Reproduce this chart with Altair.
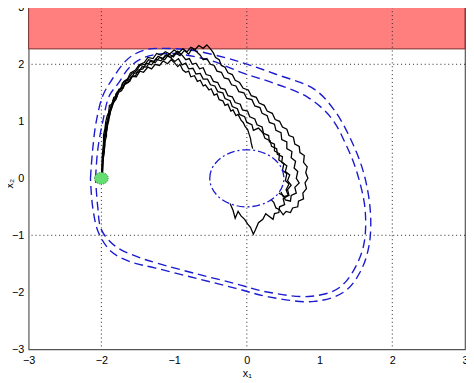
import altair as alt
import pandas as pd

# axis ticks and visible dotted grid lines
x_ticks = [-3, -2, -1, 0, 1, 2, 3]
y_ticks = [-3, -2, -1, 0, 1, 2, 3]
grid_x = [-2, 0, 2]
grid_y = [-1, 2, 3]

# unsafe (red) band
band_x = [-3.0, 3.0]
band_y = [2.27, 3.0]

# start point and target set centre
start_x = [-2.0]
start_y = [0.0]
target_x = [0.0]
target_y = [0.0]

outer_bound = [(-2.15, 0.0), (-2.12, 0.5), (-2.07, 1.0), (-1.98, 1.45), (-1.86, 1.72), (-1.64, 2.09),
               (-1.41, 2.25), (-1.14, 2.28), (-0.73, 2.24), (-0.28, 2.11), (0.03, 1.99), (0.39, 1.83),
               (0.93, 1.56), (1.20, 1.20), (1.43, 0.68), (1.61, 0.08), (1.70, -0.61), (1.68, -1.18),
               (1.56, -1.64), (1.34, -1.99), (0.93, -2.16), (0.30, -2.08), (-0.15, -1.93), (-0.68, -1.76),
               (-1.27, -1.57), (-1.59, -1.47), (-1.86, -1.29), (-2.04, -0.95), (-2.12, -0.5), (-2.15, 0.0)]

inner_bound = [(-2.08, 0.0), (-2.05, 0.5), (-1.98, 1.0), (-1.89, 1.45), (-1.77, 1.66), (-1.61, 1.95),
               (-1.41, 2.12), (-1.05, 2.19), (-0.51, 2.07), (-0.06, 1.85), (0.39, 1.66), (0.84, 1.42),
               (1.16, 1.06), (1.36, 0.60), (1.52, 0.08), (1.63, -0.61), (1.58, -1.30), (1.29, -1.90),
               (0.89, -2.07), (0.26, -1.99), (-0.15, -1.85), (-0.68, -1.68), (-1.23, -1.49), (-1.50, -1.38),
               (-1.81, -1.19), (-2.00, -0.90), (-2.05, -0.5), (-2.08, 0.0)]

traj1 = [(-2.00, 0.00), (-1.99, 0.18), (-1.99, 0.35), (-1.98, 0.50), (-1.97, 0.62), (-1.97, 0.76), (-1.95, 0.88),
         (-1.94, 0.99), (-1.92, 1.10), (-1.90, 1.15), (-1.89, 1.28), (-1.85, 1.30), (-1.83, 1.42), (-1.78, 1.45),
         (-1.76, 1.56), (-1.70, 1.58), (-1.67, 1.68), (-1.61, 1.70), (-1.58, 1.79), (-1.52, 1.78), (-1.47, 1.88),
         (-1.42, 1.86), (-1.36, 1.95), (-1.31, 1.92), (-1.26, 2.00), (-1.20, 1.98), (-1.15, 2.06), (-1.09, 2.01),
         (-1.04, 2.08), (-0.99, 2.02), (-0.95, 1.96), (-0.92, 2.00), (-0.88, 1.90), (-0.84, 1.86), (-0.80, 1.88),
         (-0.77, 1.78), (-0.72, 1.80), (-0.68, 1.70), (-0.64, 1.72), (-0.60, 1.62), (-0.57, 1.64), (-0.52, 1.55),
         (-0.49, 1.57), (-0.45, 1.46), (-0.41, 1.48), (-0.38, 1.38), (-0.33, 1.36), (-0.30, 1.28), (-0.26, 1.30),
         (-0.22, 1.18), (-0.19, 1.20), (-0.15, 1.10), (-0.12, 1.12), (-0.08, 1.02), (-0.05, 0.98), (-0.02, 0.90),
         (0.01, 0.86), (0.03, 0.78), (0.05, 0.70), (0.06, 0.62), (0.08, 0.52)]

traj2 = [(-2.00, 0.00), (-1.98, 0.22), (-1.97, 0.40), (-1.95, 0.58), (-1.95, 0.72), (-1.92, 0.86), (-1.91, 1.00),
         (-1.88, 1.12), (-1.87, 1.25), (-1.82, 1.35), (-1.80, 1.48), (-1.74, 1.55), (-1.71, 1.67), (-1.64, 1.74),
         (-1.60, 1.85), (-1.53, 1.90), (-1.48, 1.99), (-1.41, 2.03), (-1.36, 2.12), (-1.29, 2.10), (-1.24, 2.19),
         (-1.18, 2.16), (-1.12, 2.22), (-1.06, 2.18), (-1.00, 2.25), (-0.94, 2.20), (-0.88, 2.27), (-0.82, 2.22),
         (-0.77, 2.30), (-0.71, 2.26), (-0.66, 2.33), (-0.60, 2.28), (-0.55, 2.34), (-0.50, 2.27), (-0.46, 2.20),
         (-0.43, 2.12), (-0.38, 2.08), (-0.35, 1.98), (-0.30, 1.95), (-0.26, 1.85), (-0.20, 1.82), (-0.16, 1.72),
         (-0.10, 1.68), (-0.05, 1.58), (0.02, 1.55), (0.06, 1.45), (0.13, 1.42), (0.17, 1.32), (0.24, 1.28),
         (0.28, 1.18), (0.35, 1.14), (0.39, 1.03), (0.45, 1.00), (0.49, 0.90), (0.55, 0.86), (0.58, 0.75),
         (0.64, 0.72), (0.66, 0.60), (0.72, 0.56), (0.73, 0.45), (0.79, 0.40), (0.78, 0.28), (0.83, 0.20),
         (0.81, 0.10), (0.84, 0.00), (0.80, -0.08), (0.82, -0.18), (0.77, -0.26), (0.78, -0.36), (0.71, -0.40),
         (0.70, -0.50), (0.63, -0.52), (0.60, -0.60), (0.54, -0.58), (0.50, -0.64), (0.45, -0.55), (0.40, -0.52),
         (0.37, -0.42), (0.33, -0.37)]

traj3 = [(-2.00, 0.00), (-1.99, 0.20), (-1.98, 0.38), (-1.96, 0.55), (-1.96, 0.70), (-1.94, 0.84), (-1.92, 0.96),
         (-1.90, 1.10), (-1.88, 1.20), (-1.85, 1.33), (-1.81, 1.40), (-1.78, 1.52), (-1.73, 1.58), (-1.69, 1.70),
         (-1.63, 1.75), (-1.58, 1.84), (-1.52, 1.88), (-1.47, 1.98), (-1.40, 2.00), (-1.35, 2.08), (-1.28, 2.05),
         (-1.22, 2.14), (-1.15, 2.10), (-1.10, 2.17), (-1.04, 2.12), (-0.98, 2.20), (-0.92, 2.15), (-0.86, 2.24),
         (-0.80, 2.18), (-0.75, 2.28), (-0.69, 2.22), (-0.64, 2.16), (-0.60, 2.08), (-0.55, 2.10), (-0.50, 2.00),
         (-0.45, 1.98), (-0.41, 1.88), (-0.35, 1.86), (-0.31, 1.76), (-0.25, 1.74), (-0.21, 1.64), (-0.15, 1.62),
         (-0.11, 1.52), (-0.04, 1.50), (0.00, 1.40), (0.07, 1.38), (0.11, 1.27), (0.18, 1.24), (0.21, 1.14),
         (0.28, 1.10), (0.31, 0.98), (0.38, 0.95), (0.40, 0.84), (0.47, 0.80), (0.48, 0.68), (0.55, 0.64),
         (0.55, 0.52), (0.62, 0.47), (0.61, 0.36), (0.67, 0.30), (0.65, 0.18), (0.70, 0.12), (0.68, 0.00),
         (0.72, -0.08), (0.66, -0.16), (0.68, -0.26), (0.61, -0.30), (0.60, -0.40), (0.53, -0.38), (0.50, -0.30),
         (0.44, -0.26)]

traj4 = [(-2.00, 0.00), (-1.99, 0.16), (-1.98, 0.32), (-1.97, 0.48), (-1.97, 0.64), (-1.95, 0.78), (-1.94, 0.92),
         (-1.91, 1.04), (-1.90, 1.16), (-1.86, 1.24), (-1.84, 1.37), (-1.79, 1.42), (-1.76, 1.54), (-1.70, 1.60),
         (-1.66, 1.71), (-1.60, 1.74), (-1.55, 1.84), (-1.49, 1.86), (-1.44, 1.96), (-1.38, 1.95), (-1.33, 2.05),
         (-1.26, 2.03), (-1.20, 2.12), (-1.13, 2.08), (-1.07, 2.18), (-1.01, 2.13), (-0.95, 2.23), (-0.89, 2.16),
         (-0.84, 2.08), (-0.79, 2.10), (-0.75, 2.00), (-0.70, 2.02), (-0.65, 1.92), (-0.60, 1.94), (-0.56, 1.82),
         (-0.50, 1.80), (-0.46, 1.70), (-0.40, 1.68), (-0.36, 1.58), (-0.30, 1.56), (-0.26, 1.45), (-0.20, 1.43),
         (-0.16, 1.33), (-0.09, 1.30), (-0.06, 1.20), (0.01, 1.18), (0.04, 1.08), (0.11, 1.04), (0.14, 0.94),
         (0.21, 0.90), (0.23, 0.79), (0.30, 0.75), (0.31, 0.64), (0.38, 0.60), (0.38, 0.48), (0.45, 0.43),
         (0.44, 0.32), (0.51, 0.26), (0.49, 0.14), (0.55, 0.08), (0.53, -0.04), (0.58, -0.10), (0.54, -0.20),
         (0.57, -0.30), (0.50, -0.36), (0.52, -0.46), (0.45, -0.50), (0.44, -0.60), (0.38, -0.62), (0.36, -0.72),
         (0.30, -0.66), (0.26, -0.62), (0.22, -0.72), (0.16, -0.78), (0.12, -0.90), (0.09, -0.98), (0.05, -0.86),
         (0.01, -0.80), (-0.03, -0.72), (-0.08, -0.66), (-0.12, -0.58), (-0.16, -0.70), (-0.19, -0.56),
         (-0.23, -0.44)]

traj5 = [(-2.00, 0.00), (-1.98, 0.14), (-1.98, 0.30), (-1.96, 0.46), (-1.96, 0.60), (-1.93, 0.74), (-1.93, 0.88),
         (-1.90, 1.00), (-1.89, 1.12), (-1.86, 1.22), (-1.83, 1.34), (-1.80, 1.38), (-1.77, 1.50), (-1.72, 1.54),
         (-1.69, 1.64), (-1.63, 1.68), (-1.59, 1.78), (-1.53, 1.80), (-1.49, 1.90), (-1.43, 1.92), (-1.38, 2.02),
         (-1.31, 1.99), (-1.25, 2.09), (-1.18, 2.06), (-1.12, 2.16), (-1.05, 2.12), (-0.99, 2.05), (-0.94, 2.10),
         (-0.89, 1.99), (-0.84, 2.02), (-0.80, 1.92), (-0.74, 1.93), (-0.70, 1.83), (-0.64, 1.84), (-0.60, 1.74),
         (-0.54, 1.74), (-0.50, 1.64), (-0.44, 1.62), (-0.40, 1.52), (-0.33, 1.50), (-0.30, 1.40), (-0.23, 1.36),
         (-0.20, 1.26), (-0.13, 1.22), (-0.10, 1.12), (-0.03, 1.08), (0.00, 0.98), (0.07, 0.94), (0.09, 0.84),
         (0.16, 0.88), (0.22, 0.80), (0.25, 0.70), (0.32, 0.66), (0.34, 0.56), (0.41, 0.52), (0.42, 0.42),
         (0.49, 0.38), (0.48, 0.28), (0.55, 0.22), (0.53, 0.12), (0.59, 0.06), (0.56, -0.04), (0.61, -0.12),
         (0.56, -0.20), (0.58, -0.30), (0.50, -0.32), (0.47, -0.24)]


def path_df(pts, name):
    return pd.DataFrame({"x": [p[0] for p in pts], "y": [p[1] for p in pts],
                         "i": list(range(len(pts))), "g": name})


xs = alt.Scale(domain=[-3, 3], nice=False, zero=False)
ys = alt.Scale(domain=[-3, 3], nice=False, zero=False)

xaxis = alt.Axis(values=x_ticks, format="d", grid=False, ticks=False, domain=False, labelFlush=False,
                 labelFont="Liberation Sans", labelFontSize=11, labelColor="black", labelPadding=5,
                 title="x\u2081", titleFont="Liberation Sans", titleFontSize=11, titleFontWeight="normal",
                 titleColor="black", titleY=25, titleBaseline="middle")
yaxis = alt.Axis(values=y_ticks, format="d", grid=False, ticks=False, domain=False, labelFlush=False,
                 labelFont="Liberation Sans", labelFontSize=11, labelColor="black", labelPadding=5,
                 title="x\u2082", titleFont="Liberation Sans", titleFontSize=11, titleFontWeight="normal",
                 titleColor="black", titleX=-19, titleY=179, titleAngle=-90, titleBaseline="middle",
                 titleAlign="center")

band_df = pd.DataFrame({"x": [band_x[0]], "x2": [band_x[1]], "y": [band_y[0]], "y2": [band_y[1]]})
band = alt.Chart(band_df).mark_rect(fill="#ff7f7f", stroke="#7a3030", strokeWidth=1).encode(
    x=alt.X("x:Q", scale=xs, axis=xaxis), x2="x2", y=alt.Y("y:Q", scale=ys, axis=yaxis), y2="y2")

gx = alt.Chart(pd.DataFrame({"x": grid_x})).mark_rule(color="#222", strokeDash=[1, 3], strokeWidth=1).encode(
    x=alt.X("x:Q", scale=xs))
gy = alt.Chart(pd.DataFrame({"y": grid_y})).mark_rule(color="#222", strokeDash=[1, 3], strokeWidth=1).encode(
    y=alt.Y("y:Q", scale=ys))

bounds_df = pd.concat([path_df(outer_bound, "outer"), path_df(inner_bound, "inner")])
bounds = alt.Chart(bounds_df).mark_line(color="#1a1ad0", strokeDash=[9, 5], strokeWidth=1.4,
                                        interpolate="catmull-rom").encode(
    x=alt.X("x:Q", scale=xs), y=alt.Y("y:Q", scale=ys), detail="g:N", order="i:Q")

traj_df = pd.concat([path_df(t, f"t{k}") for k, t in enumerate([traj1, traj2, traj3, traj4, traj5])])
trajs = alt.Chart(traj_df).mark_line(color="black", strokeWidth=1.3).encode(
    x=alt.X("x:Q", scale=xs), y=alt.Y("y:Q", scale=ys), detail="g:N", order="i:Q")

ellipse_path = "M -1 0 A 1 0.77 0 1 1 1 0 A 1 0.77 0 1 1 -1 0 Z"
target = alt.Chart(pd.DataFrame({"x": target_x, "y": target_y})).mark_point(
    shape=ellipse_path, size=5685, filled=False, color="#1a1ad0", strokeWidth=1.3,
    strokeDash=[8, 3, 2, 3], opacity=1).encode(x=alt.X("x:Q", scale=xs), y=alt.Y("y:Q", scale=ys))

start_path = "M -1 0 A 1 0.86 0 1 1 1 0 A 1 0.86 0 1 1 -1 0 Z"
start = alt.Chart(pd.DataFrame({"x": start_x, "y": start_y})).mark_point(
    shape=start_path, size=196, filled=True, fill="#66dd70", stroke="#2f9a40", strokeWidth=1,
    strokeDash=[1, 1], opacity=1, fillOpacity=1).encode(x=alt.X("x:Q", scale=xs), y=alt.Y("y:Q", scale=ys))

chart = alt.layer(band, gx, gy, bounds, trajs, start, target).properties(
    width=444, height=348,
    autosize=alt.AutoSizeParams(type="none"),
    padding={"left": 21, "top": -4, "right": 1, "bottom": 31},
    background="white",
).configure_view(stroke="#555", strokeWidth=1.2)

chart.save("out.html", embed_options={"renderer": "svg", "actions": False})
